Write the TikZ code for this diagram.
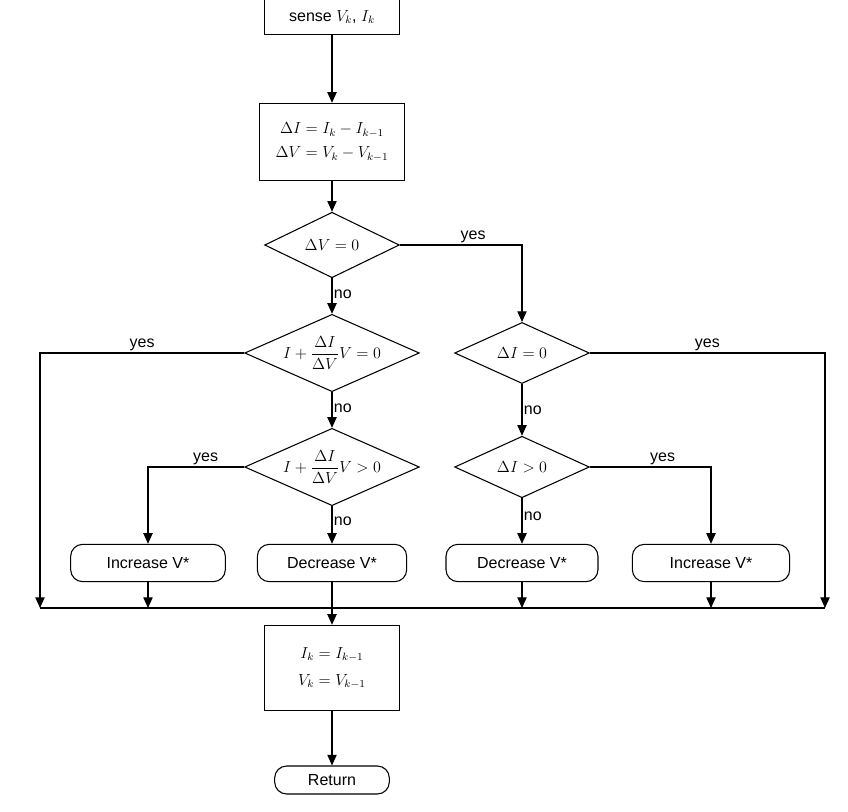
\documentclass[tikz,border=0pt]{standalone}
\usepackage{amsmath}
\usepackage{fontspec}
\setmainfont{Liberation Sans}
\usetikzlibrary{shapes.geometric,arrows.meta}
\begin{document}
\begin{tikzpicture}[x=0.75pt,y=-0.75pt,font=\fontsize{12}{14}\selectfont,
  box/.style={draw,thick,rectangle,inner sep=0},
  dia/.style={draw,thick,diamond,inner sep=0},
  term/.style={draw,thick,rounded corners=9pt,inner sep=0},
  arr/.style={thick,-{Triangle[length=8pt,width=7pt]}},
  ln/.style={thick},
  lab/.style={inner sep=1pt}]
\useasboundingbox (0,0) rectangle (848,812);
\node[box,minimum width=101pt,minimum height=26pt] (s) at (332,17) {sense $V_k$, $I_k$};
\node[box,minimum width=109pt,minimum height=58pt,align=center] (d) at (332,142) {$\Delta I=I_k-I_{k-1}$\\[4pt]$\Delta V=V_k-V_{k-1}$};
\node[dia,minimum width=101pt,minimum height=38pt] (c1) at (332,245) {$\Delta V=0$};
\node[dia,minimum width=131pt,minimum height=58pt] (c2) at (332,353) {};
\node[inner sep=0] (t2) at (c2) {$I+\dfrac{\Delta I}{\Delta V}V=0$};
\node[dia,minimum width=101pt,minimum height=42pt] (c3) at (522,353) {$\Delta I=0$};
\node[dia,minimum width=131pt,minimum height=58pt] (c4) at (332,467) {};
\node[inner sep=0] (t4) at (c4) {$I+\dfrac{\Delta I}{\Delta V}V>0$};
\node[dia,minimum width=101pt,minimum height=40pt] (c5) at (522,467) {$\Delta I>0$};
\node[term,minimum width=116pt,minimum height=28pt] (i1) at (148,563) {Increase V*};
\node[term,minimum width=112pt,minimum height=28pt] (d1) at (332,563) {Decrease V*};
\node[term,minimum width=114pt,minimum height=28pt] (d2) at (522,563) {Decrease V*};
\node[term,minimum width=118pt,minimum height=28pt] (i2) at (711,563) {Increase V*};
\node[box,minimum width=101pt,minimum height=64pt,align=center] (u) at (332,668) {$I_k=I_{k-1}$\\[6pt]$V_k=V_{k-1}$};
\node[term,minimum width=86pt,minimum height=21pt] (r) at (332,780) {Return};
\coordinate (jl) at (40,608);
\coordinate (jr) at (825,608);
\coordinate (j1) at (148,608);
\coordinate (j2) at (522,608);
\coordinate (j3) at (711,608);
\draw[arr] (s) -- (d);
\draw[arr] (d) -- (c1);
\draw[arr] (c1) -- node[lab,right,pos=0.45]{no} (c2.north);
\draw[arr] (c1.east) -- node[lab,above,pos=0.6]{yes} (522,245) -- (c3.north);
\draw[arr] (c2.west) -- node[lab,above]{yes} (40,353) -- (jl);
\draw[arr] (c3.east) -- node[lab,above]{yes} (825,353) -- (jr);
\draw[arr] (c2.south) -- node[lab,right,pos=0.45]{no} (c4.north);
\draw[arr] (c3) -- node[lab,right,pos=0.5]{no} (c5);
\draw[arr] (c4.west) -- node[lab,above,pos=0.4]{yes} (148,467) -- (i1.north);
\draw[arr] (c5.east) -- node[lab,above,pos=0.6]{yes} (711,467) -- (i2.north);
\draw[arr] (c4.south) -- node[lab,right,pos=0.4]{no} (d1);
\draw[arr] (c5) -- node[lab,right,pos=0.4]{no} (d2);
\draw[arr] (i1) -- (j1);
\draw[arr] (d2) -- (j2);
\draw[arr] (i2) -- (j3);
\draw[ln] (jl) -- (jr);
\draw[arr] (d1) -- (u);
\draw[arr] (u) -- (r);
\end{tikzpicture}
\end{document}
